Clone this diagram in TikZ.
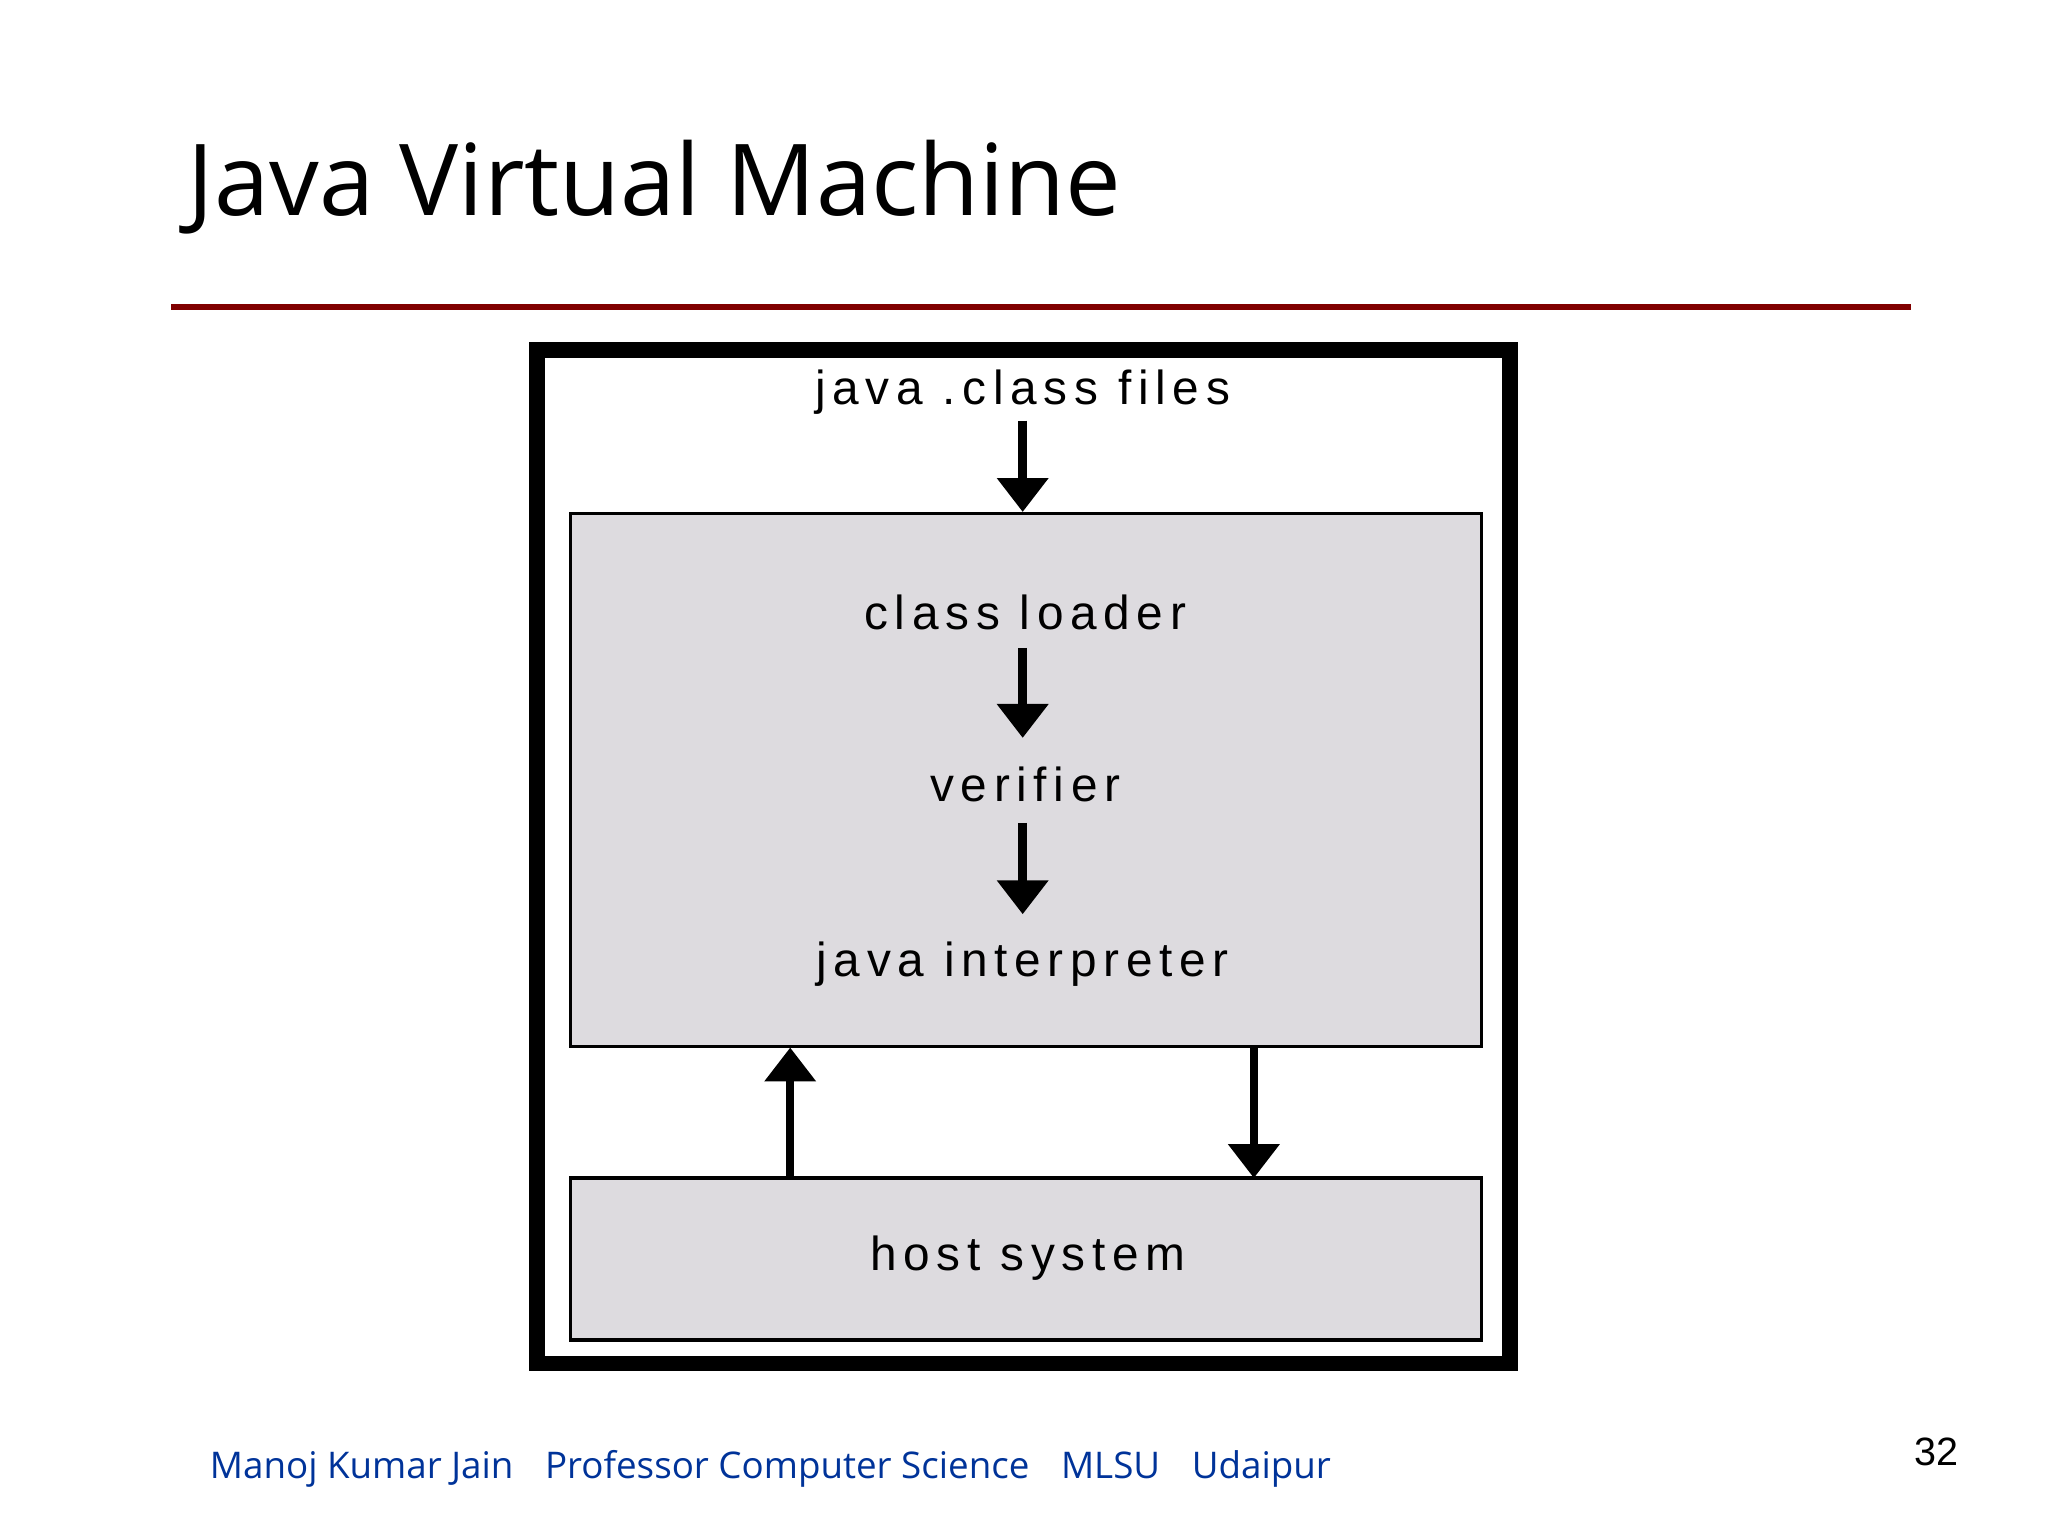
\documentclass[tikz,border=0pt]{standalone}
\usepackage{fontspec}
\setmainfont{Open Sans}
\newfontfamily\arialsp[LetterSpace=14]{Liberation Sans}
\newfontfamily\arialf{Liberation Sans}
\usetikzlibrary{arrows.meta}
\definecolor{boxgray}{RGB}{221,219,223}
\definecolor{titlered}{RGB}{128,0,0}
\definecolor{footblue}{RGB}{0,51,153}
\tikzset{
  lbl/.style={font=\arialsp\fontsize{10.4}{12}\selectfont, inner sep=0pt, anchor=base},
  flowarrow/.style={line width=0.065cm, -{Triangle[width=0.38cm,length=0.26cm]}},
  graybox/.style={draw, line width=0.025cm, fill=boxgray}
}
\begin{document}
\begin{tikzpicture}[x=0.01cm,y=-0.01cm]
\useasboundingbox (0,0) rectangle (1568,1176);
\node[font=\fontsize{21.6}{24}\selectfont, anchor=base west, inner sep=0pt] (title) at (143,165) {Java Virtual Machine};
\draw[titlered, line width=0.05cm] (131,235) -- (1463,235);
\draw[line width=0.12cm] (411,268) rectangle (1156,1044);
\draw[graybox] (437,393) rectangle (1134,801);
\draw[graybox] (437,902) rectangle (1134,1026);
\node[lbl] (files) at (783,310) {java .class files};
\node[lbl] (loader) at (785,482) {class loader};
\node[lbl] (verifier) at (785,614) {verifier};
\node[lbl] (interp) at (783,748) {java interpreter};
\node[lbl] (host) at (787,973) {host system};
\coordinate (a1s) at (783,322); \coordinate (a1e) at (783,392);
\coordinate (a2s) at (783,496); \coordinate (a2e) at (783,565);
\coordinate (a3s) at (783,630); \coordinate (a3e) at (783,700);
\coordinate (ups) at (605,902); \coordinate (upe) at (605,802);
\coordinate (dns) at (960,802); \coordinate (dne) at (960,902);
\draw[flowarrow] (a1s) -- (a1e);
\draw[flowarrow] (a2s) -- (a2e);
\draw[flowarrow] (a3s) -- (a3e);
\draw[flowarrow] (ups) -- (upe);
\draw[flowarrow] (dns) -- (dne);
\node[font=\fontsize{8}{10}\selectfont, text=footblue, anchor=base west, inner sep=0pt] (foot) at (160,1132) {Manoj Kumar Jain\hspace{0.6em} Professor Computer Science\hspace{0.6em} MLSU\hspace{0.6em} Udaipur};
\node[font=\arialf\fontsize{8.6}{10}\selectfont, anchor=base east, inner sep=0pt] (page) at (1500,1122) {32};
\end{tikzpicture}
\end{document}
